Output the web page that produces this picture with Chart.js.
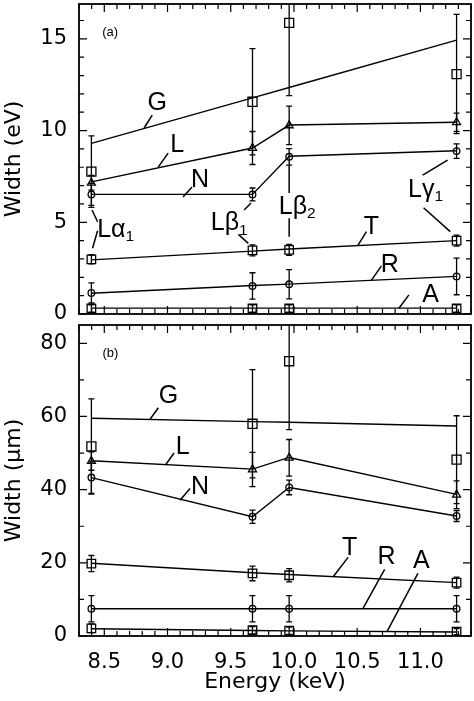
<!DOCTYPE html>
<html><head><meta charset="utf-8">
<script src="https://cdn.jsdelivr.net/npm/chart.js@4.4.1/dist/chart.umd.min.js"></script>
<style>
html,body{margin:0;padding:0;background:#fff;overflow:hidden;}
#w1{position:absolute;left:0;top:0;width:474px;height:320px;}
#w2{position:absolute;left:0;top:320px;width:474px;height:381px;}
</style></head><body>
<div id="w1"><canvas id="c1" width="474" height="320" style="width:474px;height:320px"></canvas></div>
<div id="w2"><canvas id="c2" width="474" height="381" style="width:474px;height:381px"></canvas></div>
<script>
// ---- shared axis data ----
const energies = [8.398, 9.672, 9.962, 11.286];   // keV: La1, Lb1, Lb2, Lg1
const xTicks = [8.5, 9.0, 9.5, 10.0, 10.5, 11.0];
const yTicksEv = [0, 5, 10, 15];
const yTicksUm = [0, 20, 40, 60, 80];

// ---- panel (a): width in eV ----
const gEv = [7.76, 11.57, 15.87, 13.08];
const gEvErr = [1.95, 2.9, 3.97, 3.25];
const gEvFit = [9.30, 11.78, 12.35, 14.93];
const lEv = [7.15, 9.05, 10.28, 10.45];
const lEvErr = [0.4, 0.9, 1.05, 0.5];
const lEvFit = [7.2, 9.05, 10.3, 10.45];
const nEv = [6.52, 6.52, 8.57, 8.88];
const nEvErr = [0.6, 0.35, 0.45, 0.4];
const nEvFit = [6.52, 6.52, 8.6, 8.9];
const tEv = [2.98, 3.47, 3.5, 4.0];
const tEvErr = [0.25, 0.3, 0.3, 0.3];
const tEvFit = [2.95, 3.43, 3.54, 4.0];
const rEv = [1.15, 1.53, 1.62, 2.05];
const rEvErr = [0.55, 0.72, 0.8, 1.0];
const rEvFit = [1.13, 1.55, 1.63, 2.05];
const aEv = [0.3, 0.3, 0.3, 0.3];
const aEvErr = [0.2, 0.2, 0.2, 0.2];
const aEvFit = [0.32, 0.32, 0.32, 0.32];

// ---- panel (b): width in micrometres ----
const gUm = [51.8, 58.0, 75.1, 48.2];
const gUmErr = [13, 14.8, 18.7, 12];
const gUmFit = [59.5, 58.6, 58.4, 57.4];
const lUm = [47.8, 45.5, 48.7, 38.6];
const lUmErr = [2.5, 4.7, 5, 3.8];
const lUmFit = [47.9, 45.6, 48.8, 38.7];
const nUm = [43.3, 32.6, 40.6, 32.8];
const nUmErr = [4.3, 1.8, 2, 1.5];
const nUmFit = [43.3, 32.6, 40.6, 32.8];
const tUm = [19.8, 17.1, 16.6, 14.6];
const tUmErr = [2.2, 2, 1.8, 1.5];
const tUmFit = [19.9, 17.3, 16.8, 14.6];
const rUm = [7.45, 7.45, 7.45, 7.45];
const rUmErr = [3.6, 3.6, 3.6, 3.6];
const rUmFit = [7.45, 7.45, 7.45, 7.45];
const aUm = [2.1, 1.6, 1.45, 1.2];
const aUmErr = [1.2, 1.0, 1.0, 0.8];
const aUmFit = [2.0, 1.5, 1.4, 1.1];

const LABEL_FONT = "'Liberation Sans', Arial, sans-serif";
const AXIS_FONT = "'DejaVu Sans', sans-serif";

const markers = {
  G: {pointStyle: 'rect', radius: 6.4},
  L: {pointStyle: 'triangle', radius: 4.6},
  N: {pointStyle: 'circle', radius: 3.3},
  T: {pointStyle: 'rect', radius: 6.0},
  R: {pointStyle: 'circle', radius: 3.3},
  A: {pointStyle: 'rect', radius: 6.0}
};

function pts(vals) { return energies.map((e, i) => ({x: e, y: vals[i]})); }

function buildDatasets(series) {
  const ds = [];
  series.forEach(s => {
    ds.push({label: s.name + ' fit', data: pts(s.fit), showLine: true, borderColor: '#000',
      borderWidth: 1.4, pointRadius: 0, fill: false, tension: 0});
    ds.push({label: s.name, data: pts(s.vals), showLine: false, borderColor: '#000',
      backgroundColor: 'rgba(0,0,0,0)', pointBorderWidth: 1.3,
      pointStyle: markers[s.name].pointStyle, pointRadius: markers[s.name].radius});
  });
  return ds;
}

function drawRich(ctx, parts, cx, cy, size) {
  let w = 0;
  parts.forEach(p => {
    const fs = p.sub ? size * 0.62 : size;
    ctx.font = fs + 'px ' + LABEL_FONT;
    p._w = ctx.measureText(p.t).width; p._fs = fs; w += p._w;
  });
  let x = cx - w / 2;
  ctx.textAlign = 'left'; ctx.textBaseline = 'middle';
  parts.forEach(p => {
    ctx.font = p._fs + 'px ' + LABEL_FONT;
    ctx.fillText(p.t, x, p.sub ? cy + size * 0.28 : cy);
    x += p._w;
  });
}

const framePlugin = {
  id: 'frame',
  afterDatasetsDraw(chart, args, opts) {
    const {ctx, chartArea: a} = chart;
    const xs = chart.scales.x, ys = chart.scales.y;
    ctx.save();
    ctx.beginPath(); ctx.rect(a.left, a.top, a.right - a.left, a.bottom - a.top); ctx.clip();
    ctx.strokeStyle = '#000'; ctx.lineWidth = 1.3;
    opts.errors.forEach(s => {
      energies.forEach((e, i) => {
        const px = xs.getPixelForValue(e);
        const yt = ys.getPixelForValue(s.vals[i] + s.err[i]);
        const yb = ys.getPixelForValue(s.vals[i] - s.err[i]);
        ctx.beginPath();
        ctx.moveTo(px, yt); ctx.lineTo(px, yb);
        ctx.moveTo(px - 3, yt); ctx.lineTo(px + 3, yt);
        ctx.moveTo(px - 3, yb); ctx.lineTo(px + 3, yb);
        ctx.stroke();
      });
    });
    ctx.restore();

    ctx.save();
    ctx.strokeStyle = '#000';
    ctx.lineWidth = 1.2;
    ctx.beginPath();
    for (let k = 0; k <= 31; k++) {
      const v = 8.3 + k * 0.1;
      if (v > xs.max + 1e-6) break;
      const major = Math.abs(v * 2 - Math.round(v * 2)) < 1e-6;
      const L = major ? 8 : 5;
      const px = xs.getPixelForValue(v);
      ctx.moveTo(px, a.bottom); ctx.lineTo(px, a.bottom - L);
      ctx.moveTo(px, a.top); ctx.lineTo(px, a.top + L);
    }
    for (let v = 0; v <= ys.max + 1e-6; v += opts.yMinor) {
      const major = Math.abs(v / opts.yMajor - Math.round(v / opts.yMajor)) < 1e-6;
      const L = major ? 8 : 5;
      const py = ys.getPixelForValue(v);
      ctx.moveTo(a.left, py); ctx.lineTo(a.left + L, py);
      ctx.moveTo(a.right, py); ctx.lineTo(a.right - L, py);
    }
    ctx.stroke();
    ctx.lineWidth = 1.8;
    ctx.strokeRect(a.left, a.top, a.right - a.left, a.bottom - a.top);

    ctx.fillStyle = '#000'; ctx.lineWidth = 1.5;
    opts.notes.forEach(n => {
      (n.lines || []).forEach(l => {
        ctx.beginPath();
        ctx.moveTo(xs.getPixelForValue(l[0]), ys.getPixelForValue(l[1]));
        ctx.lineTo(xs.getPixelForValue(l[2]), ys.getPixelForValue(l[3]));
        ctx.stroke();
      });
      drawRich(ctx, n.parts, xs.getPixelForValue(n.x), ys.getPixelForValue(n.y), n.size || 25);
    });
    ctx.restore();
  }
};

function zeroPad(s) { s.paddingTop = 0; s.paddingBottom = 0; s.paddingLeft = 0; s.paddingRight = 0; }

function axisX(show) {
  return {
    type: 'linear', min: 8.3, max: 11.4, display: show,
    grid: {display: false, drawTicks: false}, border: {display: false},
    afterBuildTicks: s => { s.ticks = xTicks.map(v => ({value: v})); },
    afterFit: s => { s.height = show ? 65 : 0; zeroPad(s); },
    ticks: {padding: 14, color: '#000', font: {family: AXIS_FONT, size: 21},
      callback: v => Number(v).toFixed(1)},
    title: {display: show, text: 'Energy (keV)', color: '#000',
      font: {family: AXIS_FONT, size: 22}, padding: {top: 0, bottom: 6}}
  };
}
function axisY(max, tickVals, title) {
  return {
    type: 'linear', min: 0, max: max,
    grid: {display: false, drawTicks: false}, border: {display: false},
    afterBuildTicks: s => { s.ticks = tickVals.map(v => ({value: v})); },
    afterFit: s => { s.width = 79; zeroPad(s); },
    ticks: {padding: 12, color: '#000', font: {family: AXIS_FONT, size: 21},
      callback: v => String(v)},
    title: {display: true, text: title, color: '#000',
      font: {family: AXIS_FONT, size: 22}, padding: {top: 1, bottom: 0}}
  };
}

const seriesEv = [
  {name: 'G', vals: gEv, err: gEvErr, fit: gEvFit},
  {name: 'L', vals: lEv, err: lEvErr, fit: lEvFit},
  {name: 'N', vals: nEv, err: nEvErr, fit: nEvFit},
  {name: 'T', vals: tEv, err: tEvErr, fit: tEvFit},
  {name: 'R', vals: rEv, err: rEvErr, fit: rEvFit},
  {name: 'A', vals: aEv, err: aEvErr, fit: aEvFit}
];
const seriesUm = [
  {name: 'G', vals: gUm, err: gUmErr, fit: gUmFit},
  {name: 'L', vals: lUm, err: lUmErr, fit: lUmFit},
  {name: 'N', vals: nUm, err: nUmErr, fit: nUmFit},
  {name: 'T', vals: tUm, err: tUmErr, fit: tUmFit},
  {name: 'R', vals: rUm, err: rUmErr, fit: rUmFit},
  {name: 'A', vals: aUm, err: aUmErr, fit: aUmFit}
];

const notesEv = [
  {parts: [{t: '(a)'}], x: 8.547, y: 15.37, size: 13},
  {parts: [{t: 'G'}], x: 8.918, y: 11.5, lines: [[8.815, 10.14, 8.879, 10.84]]},
  {parts: [{t: 'L'}], x: 9.076, y: 9.21, lines: [[8.926, 8.01, 9.005, 8.77]]},
  {parts: [{t: 'N'}], x: 9.257, y: 7.3, lines: [[9.123, 6.38, 9.194, 6.92]]},
  {parts: [{t: 'L'}, {t: 'α'}, {t: '1', sub: true}], x: 8.59, y: 4.58,
    lines: [[8.403, 5.67, 8.447, 5.03], [8.447, 4.54, 8.407, 3.58]]},
  {parts: [{t: 'L'}, {t: 'β'}, {t: '1', sub: true}], x: 9.488, y: 4.94,
    lines: [[9.606, 5.67, 9.66, 6.05], [9.56, 4.34, 9.639, 3.85]]},
  {parts: [{t: 'L'}, {t: 'β'}, {t: '2', sub: true}], x: 10.026, y: 5.85,
    lines: [[9.962, 8.1, 9.962, 6.6], [9.962, 5.22, 9.962, 4.21]]},
  {parts: [{t: 'L'}, {t: 'γ'}, {t: '1', sub: true}], x: 11.041, y: 6.76,
    lines: [[11.018, 7.57, 11.215, 8.39], [11.025, 5.79, 11.236, 4.49]]},
  {parts: [{t: 'T'}], x: 10.613, y: 4.76, lines: [[10.507, 3.76, 10.573, 4.49]]},
  {parts: [{t: 'R'}], x: 10.757, y: 2.67, lines: [[10.613, 1.85, 10.692, 2.62]]},
  {parts: [{t: 'A'}], x: 11.08, y: 1.04, lines: [[10.83, 0.31, 10.909, 1.04]]}
];
const notesUm = [
  {parts: [{t: '(b)'}], x: 8.548, y: 77.1, size: 13},
  {parts: [{t: 'G'}], x: 9.007, y: 65.5, lines: [[8.863, 59.3, 8.928, 62.4]]},
  {parts: [{t: 'L'}], x: 9.121, y: 51.6, lines: [[8.985, 46.8, 9.052, 50.0]]},
  {parts: [{t: 'N'}], x: 9.257, y: 40.7, lines: [[9.099, 37.1, 9.178, 40.3]]},
  {parts: [{t: 'T'}], x: 10.441, y: 23.9, lines: [[10.31, 16.2, 10.428, 21.5]]},
  {parts: [{t: 'R'}], x: 10.731, y: 21.5, lines: [[10.546, 7.56, 10.717, 18.2]]},
  {parts: [{t: 'A'}], x: 11.007, y: 20.5, lines: [[10.736, 1.17, 10.98, 17.1]]}
];

function makeChart(id, series, yMax, yTickVals, yTitle, showX, padding, yMinor, yMajor, notes) {
  return new Chart(document.getElementById(id), {
    type: 'scatter',
    data: {datasets: buildDatasets(series)},
    options: {
      responsive: false, animation: false, devicePixelRatio: 1,
      layout: {padding: padding, autoPadding: false},
      plugins: {legend: {display: false}, tooltip: {enabled: false},
        frame: {errors: series, yMinor: yMinor, yMajor: yMajor, notes: notes}},
      scales: {x: axisX(showX), y: axisY(yMax, yTickVals, yTitle)}
    },
    plugins: [framePlugin]
  });
}

makeChart('c1', seriesEv, 16.9, yTicksEv, 'Width (eV)', false,
  {left: 0, right: 3, top: 4, bottom: 6}, 1, 5, notesEv);
makeChart('c2', seriesUm, 85, yTicksUm, 'Width (μm)', true,
  {left: 0, right: 3, top: 5, bottom: 0}, 10, 20, notesUm);
</script>
</body></html>
